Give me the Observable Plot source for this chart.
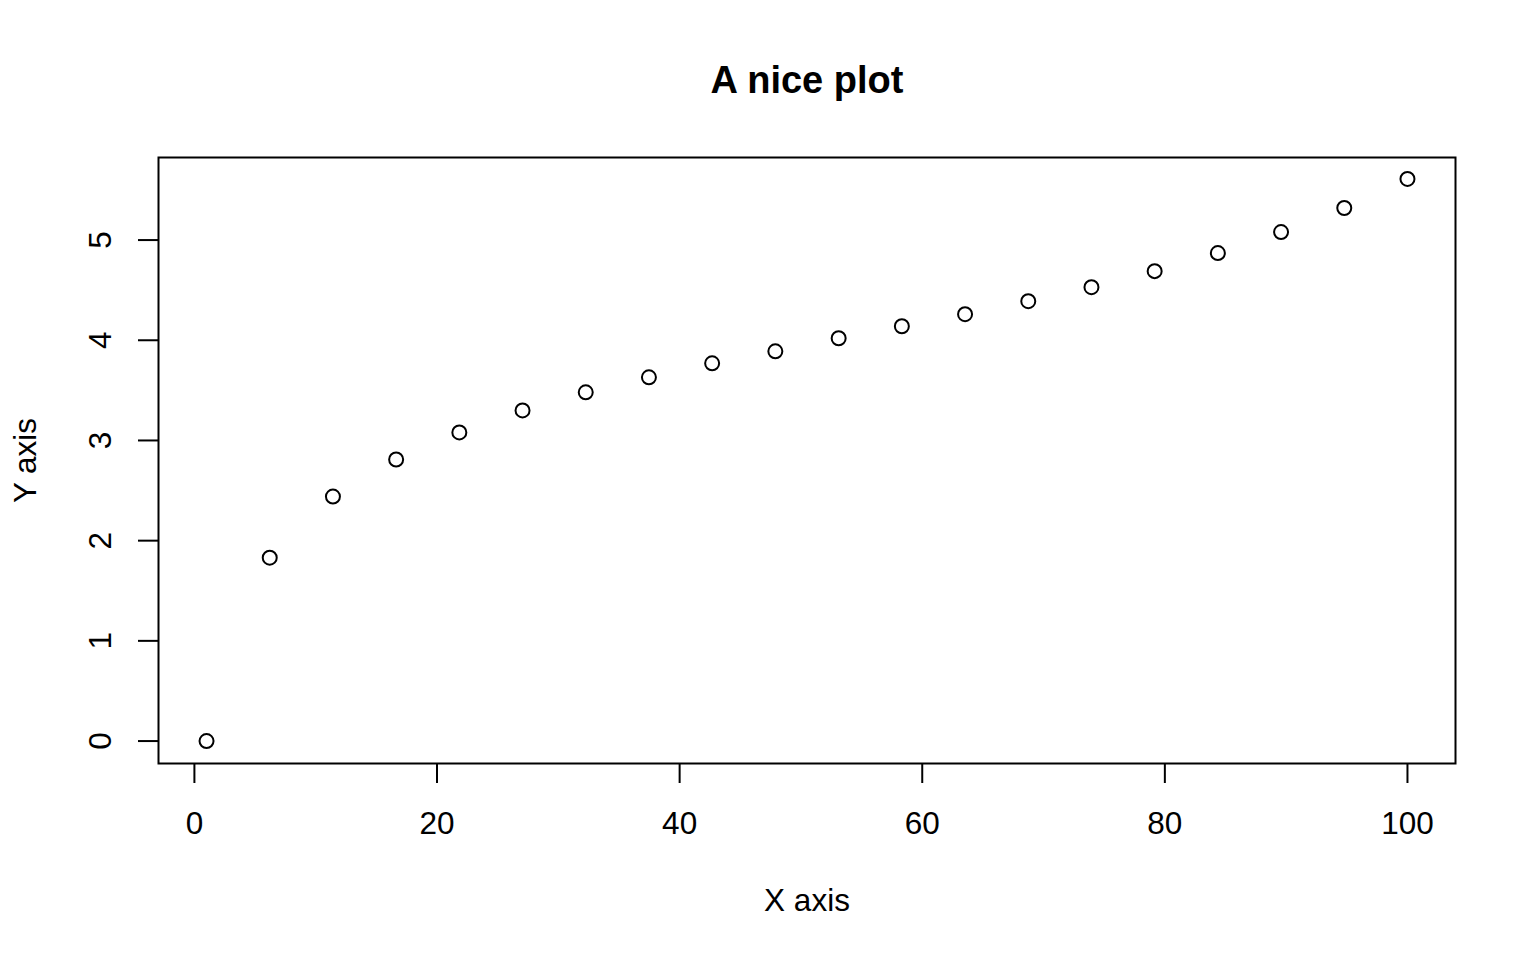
<!DOCTYPE html>
<html>
<head>
<meta charset="utf-8">
<script src="https://cdn.jsdelivr.net/npm/d3@7"></script>
<script src="https://cdn.jsdelivr.net/npm/@observablehq/plot@0.6"></script>
<style>
  html, body { margin: 0; padding: 0; background: #fff; }
  #chart svg { display: block; }
</style>
</head>
<body>
<div id="chart"></div>
<script>
const xValues = [1, 6.21, 11.42, 16.63, 21.84, 27.05, 32.26, 37.47, 42.68, 47.89, 53.11, 58.32, 63.53, 68.74, 73.95, 79.16, 84.37, 89.58, 94.79, 100];
const yValues = [0, 1.83, 2.44, 2.81, 3.08, 3.30, 3.48, 3.63, 3.77, 3.89, 4.02, 4.14, 4.26, 4.39, 4.53, 4.69, 4.87, 5.08, 5.32, 5.61];
const xTicks = [0, 20, 40, 60, 80, 100];
const yTicks = [0, 1, 2, 3, 4, 5];
const titleText = "A nice plot";
const xLabel = "X axis";
const yLabel = "Y axis";

const points = xValues.map((x, i) => ({x, y: yValues[i]}));

const font = "'Liberation Sans', Arial, Helvetica, sans-serif";
const fs = 31.5;

const chart = Plot.plot({
  width: 1536,
  height: 960,
  marginTop: 157,
  marginBottom: 197,
  marginLeft: 158,
  marginRight: 81,
  style: {fontFamily: font, background: "#fff", color: "#000"},
  x: {domain: [-2.96, 103.96], ticks: xTicks},
  y: {domain: [-0.224, 5.824], ticks: yTicks},
  marks: [
    Plot.frame({stroke: "#000", strokeWidth: 2}),
    Plot.axisX({ticks: xTicks, tickSize: 20, tickFormat: () => "", label: null, strokeWidth: 2, stroke: "#000"}),
    Plot.axisY({ticks: yTicks, tickSize: 20, tickFormat: () => "", label: null, strokeWidth: 2, stroke: "#000"}),
    Plot.text(xTicks, {x: d => d, text: d => String(d), frameAnchor: "bottom", dy: 60, fontSize: fs, textAnchor: "middle", lineAnchor: "middle", fill: "#000"}),
    Plot.text(yTicks, {y: d => d, text: d => String(d), frameAnchor: "left", dx: -58, rotate: -90, fontSize: fs, textAnchor: "middle", lineAnchor: "middle", fill: "#000"}),
    Plot.dot(points, {x: "x", y: "y", r: 7, stroke: "#000", strokeWidth: 2, fill: "none"}),
    Plot.text([titleText], {frameAnchor: "top", dy: -77, fontSize: 38, fontWeight: "bold", lineAnchor: "middle", fill: "#000"}),
    Plot.text([xLabel], {frameAnchor: "bottom", dy: 137, fontSize: fs, lineAnchor: "middle", fill: "#000"}),
    Plot.text([yLabel], {frameAnchor: "left", dx: -133, rotate: -90, fontSize: fs, lineAnchor: "middle", textAnchor: "middle", fill: "#000"})
  ]
});
document.getElementById("chart").appendChild(chart);
</script>
</body>
</html>
